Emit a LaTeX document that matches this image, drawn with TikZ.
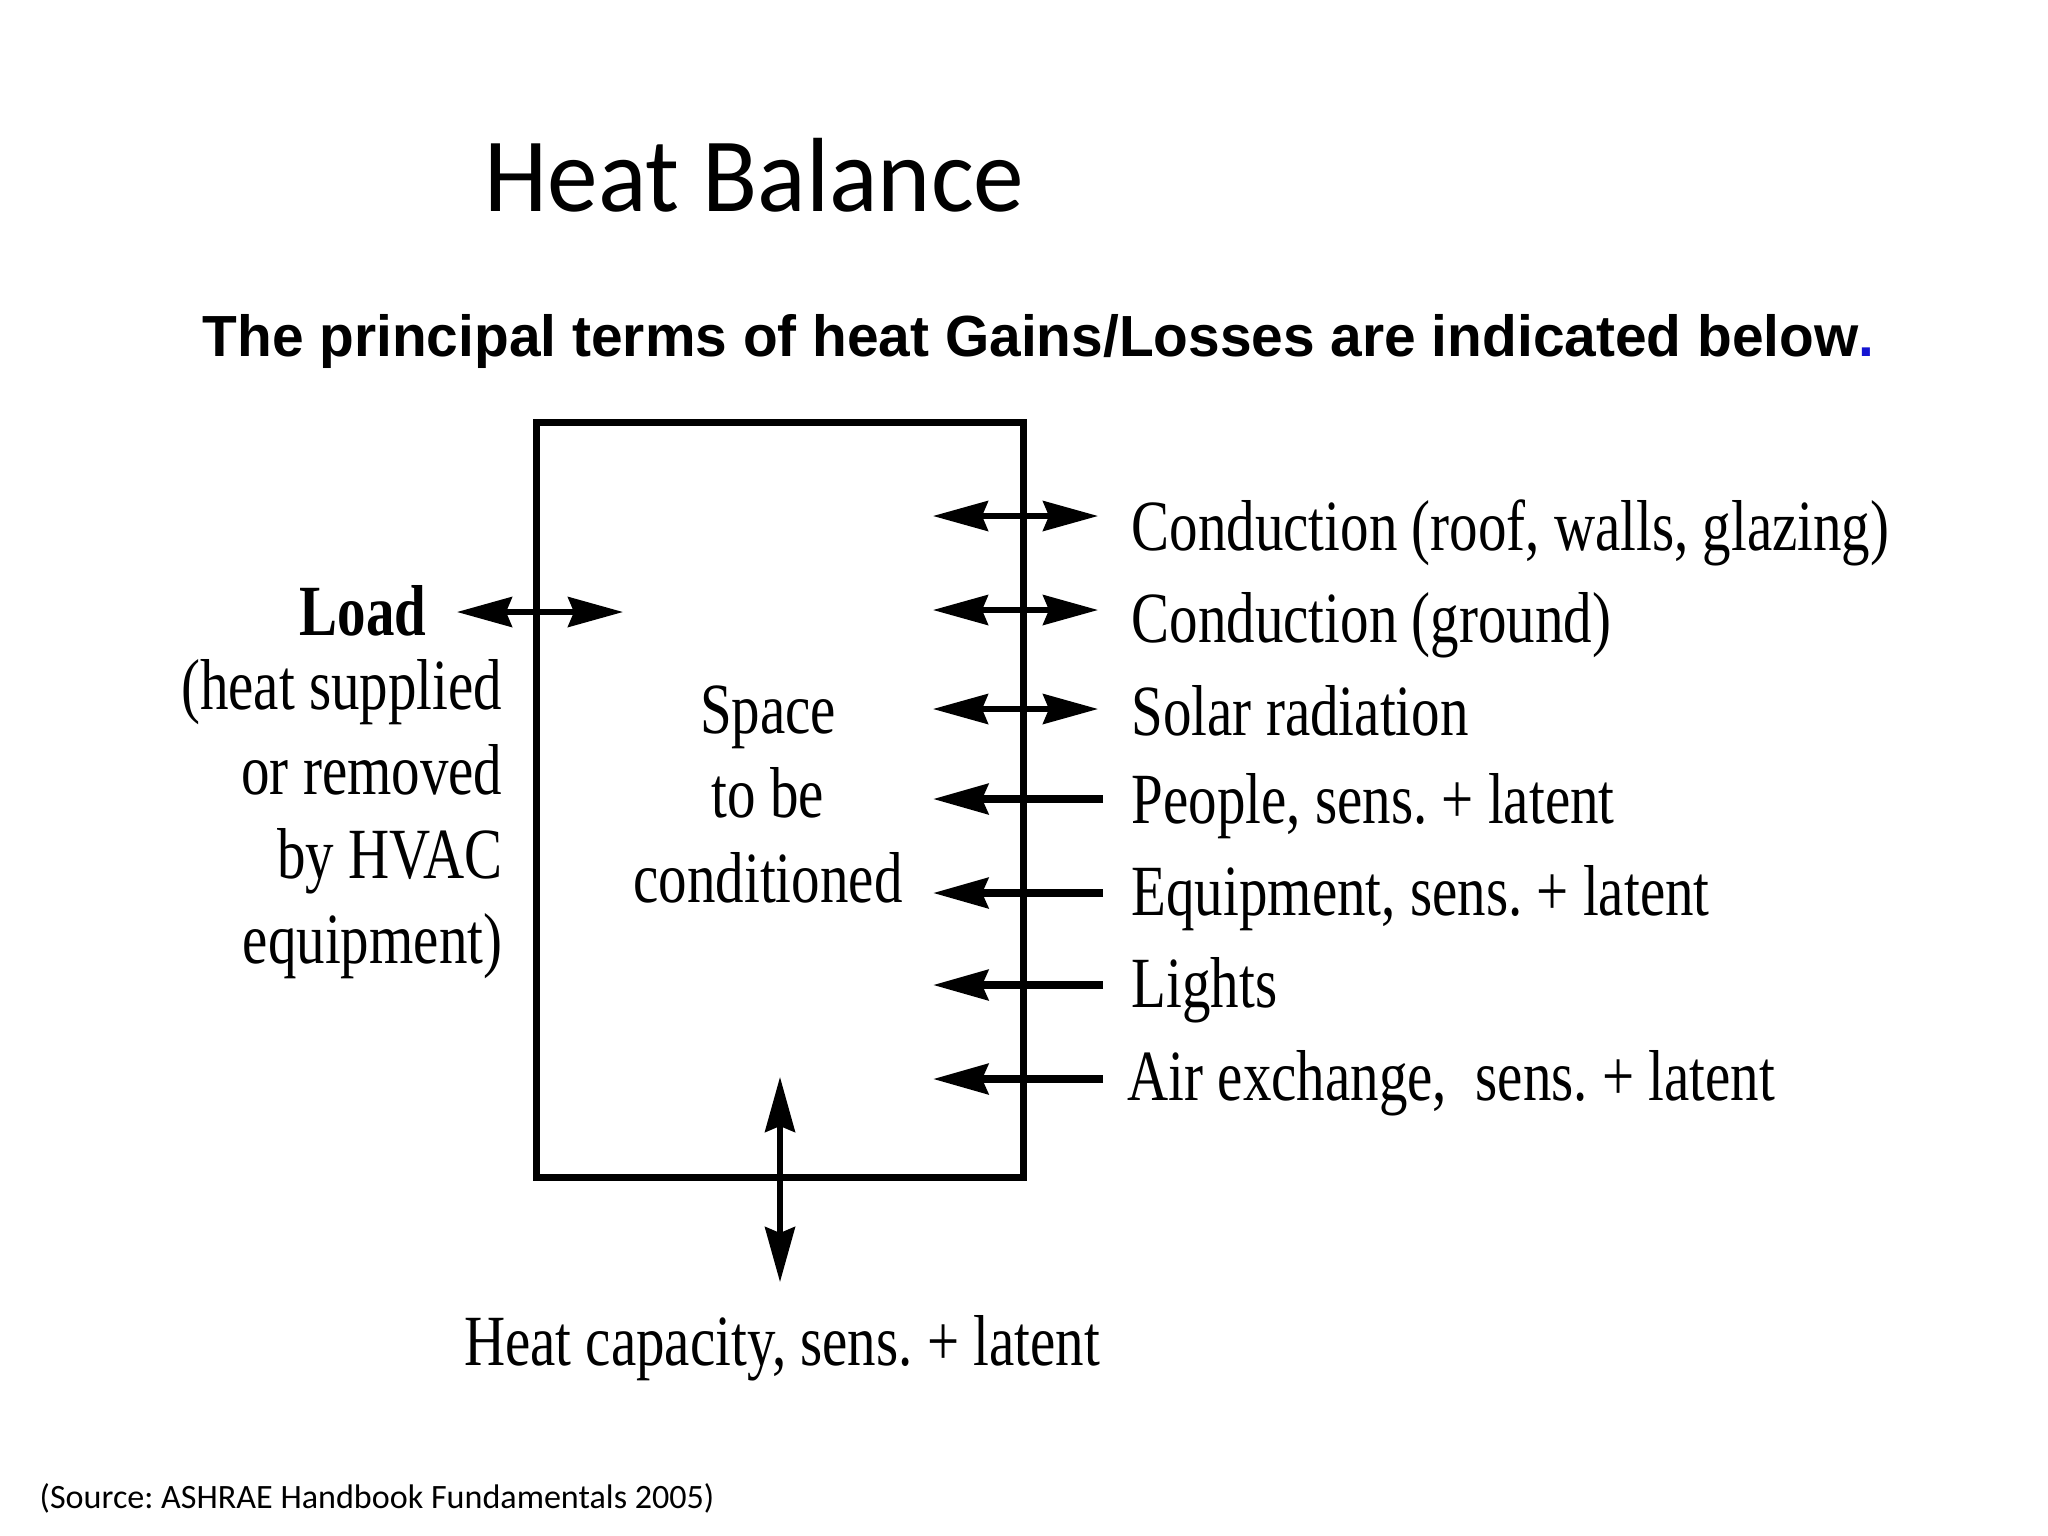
\documentclass[tikz,border=0pt]{standalone}
\usepackage{fontspec}
\setmainfont{Liberation Serif}[FakeStretch=0.79]
\newfontfamily\slidefont{Carlito}
\newfontfamily\titlefont{Carlito}[FakeStretch=0.96]
\newfontfamily\headfont{Liberation Sans}[FakeStretch=0.98]
\usetikzlibrary{arrows.meta}
\definecolor{dotblue}{RGB}{20,20,210}
\frenchspacing

\tikzset{
  wall/.style={draw, line width=2pt, inner sep=0pt},
  twoway/.style={line width=1.5pt, {Stealth[length=5.5mm,width=3mm,inset=0.6mm]}-{Stealth[length=5.5mm,width=3mm,inset=0.6mm]}},
  oneway/.style={line width=2.3pt, -{Stealth[length=5.5mm,width=3mm,inset=0.6mm]}},
  term/.style={anchor=base west, inner sep=0pt, font=\fontsize{20.5}{24}\selectfont}
}

\begin{document}
\begin{tikzpicture}[x=0.01cm, y=-0.01cm]
  \useasboundingbox (0,0) rectangle (2048,1536);

  % headings
  \node[anchor=base west, inner sep=0pt, font=\titlefont\fontsize{30}{36}\selectfont] (title) at (484,211) {Heat Balance};
  \node[anchor=base west, inner sep=0pt, font=\headfont\bfseries\fontsize{16.5}{20}\selectfont] (intro) at (202,356)
    {The principal terms of heat Gains/Losses are indicated below\textcolor{dotblue}{.}};

  % the room
  \node[wall, minimum width=4.86cm, minimum height=7.54cm] (space) at (780,800) {};
  \node[align=center, inner sep=0pt, anchor=base, font=\fontsize{20.5}{24}\selectfont] (spacetxt) at (768,902) {Space\\to be\\conditioned};

  % load side
  \node[anchor=base east, inner sep=0pt, font=\bfseries\fontsize{20.5}{24}\selectfont] (load) at (427,635) {Load};
  \node[align=right, anchor=base east, inner sep=0pt, font=\fontsize{20.5}{24}\selectfont] (hvac) at (503,963)
    {(heat supplied\\or removed\\by HVAC\\equipment)};
  \coordinate (l1) at (457,612);
  \coordinate (l2) at (623,612);
  \draw[twoway] (l1) -- (l2);

  % gains and losses through the envelope
  \node[term] (cond1) at (1131,550) {Conduction (roof, walls, glazing)};
  \node[term] (cond2) at (1131,642) {Conduction (ground)};
  \node[term] (solar) at (1131,735) {Solar radiation};
  \node[term] (people) at (1131,823) {People, sens. + latent};
  \node[term] (equip) at (1131,915) {Equipment, sens. + latent};
  \node[term] (lights) at (1131,1007) {Lights};
  \node[term] (air) at (1127,1100) {Air exchange,\ \ sens. + latent};

  \coordinate (a1) at (933,516);  \coordinate (b1) at (1098,516);
  \coordinate (a2) at (933,610);  \coordinate (b2) at (1098,610);
  \coordinate (a3) at (933,709);  \coordinate (b3) at (1098,709);
  \coordinate (a4) at (933,799);  \coordinate (b4) at (1103,799);
  \coordinate (a5) at (933,893);  \coordinate (b5) at (1103,893);
  \coordinate (a6) at (933,985);  \coordinate (b6) at (1103,985);
  \coordinate (a7) at (933,1079); \coordinate (b7) at (1103,1079);
  \draw[twoway] (a1) -- (b1);
  \draw[twoway] (a2) -- (b2);
  \draw[twoway] (a3) -- (b3);
  \draw[oneway] (b4) -- (a4);
  \draw[oneway] (b5) -- (a5);
  \draw[oneway] (b6) -- (a6);
  \draw[oneway] (b7) -- (a7);

  % storage
  \coordinate (c1) at (780,1077);
  \coordinate (c2) at (780,1282);
  \draw[twoway] (c1) -- (c2);
  \node[anchor=base, inner sep=0pt, font=\fontsize{20.5}{24}\selectfont] (capacity) at (782,1365) {Heat capacity, sens. + latent};

  \node[anchor=base west, inner sep=0pt, font=\slidefont\fontsize{9.7}{12}\selectfont] (source) at (39,1508) {(Source: ASHRAE Handbook Fundamentals 2005)};
\end{tikzpicture}
\end{document}
